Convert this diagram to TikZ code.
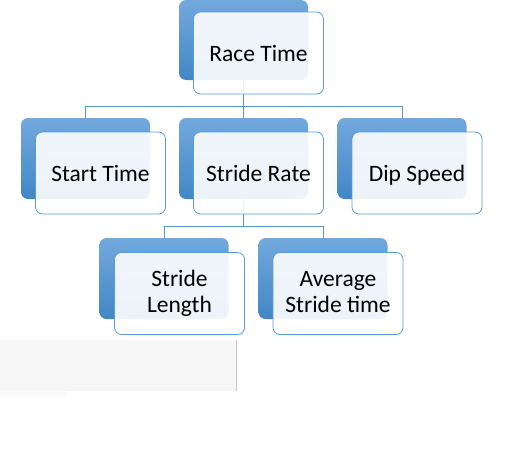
\documentclass[tikz,border=0pt]{standalone}
\usepackage{fontspec}
\setmainfont{Carlito}
\definecolor{edgeblue}{HTML}{5B9BD5}
\definecolor{topblue}{HTML}{72A9DD}
\definecolor{botblue}{HTML}{4286C6}
\definecolor{linkblue}{HTML}{5B93C9}
\definecolor{paneGray}{HTML}{F6F6F6}
\definecolor{paneEdge}{HTML}{C4C4C4}
\begin{document}
\begin{tikzpicture}[x=1pt,y=-1pt,
  backbox/.style={rectangle, rounded corners=7pt, minimum width=129pt, minimum height=81pt, inner sep=0pt,
    top color=topblue, bottom color=botblue, draw=none},
  frontbox/.style={rectangle, rounded corners=7pt, minimum width=130pt, minimum height=82pt, inner sep=0pt,
    draw=edgeblue, line width=0.8pt, fill=white, fill opacity=0.9, text opacity=1,
    font=\fontsize{23.5}{26}\selectfont, align=center, text=black, text depth=0pt},
  twoline/.style={font=\fontsize{23.5}{26}\selectfont, align=center, text depth=0pt, inner sep=0pt, text=black},
  link/.style={draw=linkblue, line width=0.8pt}]
\useasboundingbox (0,0) rectangle (508,466);
% grey pane
\fill[paneGray] (0,340) rectangle (236,391);
\fill[paneGray!60] (0,391) rectangle (66,397);
\draw[paneEdge, line width=0.8pt] (236,340) -- (236,391);
% back boxes
\node[backbox, minimum height=80pt] (raceB) at (243.5,40) {};
\node[backbox] (startB) at (85.5,158.5) {};
\node[backbox] (strideB) at (243.5,158.5) {};
\node[backbox] (dipB) at (402,158.5) {};
\node[backbox] (lenB) at (164,278.5) {};
\node[backbox] (avgB) at (323,278.5) {};
% bus coordinates
\coordinate (busA) at (0,106);
\coordinate (busB) at (0,226);
% connectors
\draw[link] (raceB.south) -- (raceB.south |- busA) -| (startB.north);
\draw[link] (raceB.south) -- (strideB.north);
\draw[link] (raceB.south |- busA) -| (dipB.north);
\draw[link] (strideB.south) -- (strideB.south |- busB) -| (lenB.north);
\draw[link] (strideB.south |- busB) -| (avgB.north);
% front boxes
\node[frontbox] (raceF) at (258.5,53) {Race Time};
\node[frontbox] (startF) at (100.5,173) {Start Time};
\node[frontbox] (strideF) at (258.5,173) {Stride Rate};
\node[frontbox] (dipF) at (417,173) {Dip Speed};
\node[frontbox] (lenF) at (179.5,293.5) {};
\node[frontbox] (avgF) at (338,293.5) {};
\node[twoline] (lenT) at ([yshift=2pt]lenF.center) {Stride\\Length};
\node[twoline] (avgT) at ([yshift=2pt]avgF.center) {Average\\Stride time};
\end{tikzpicture}
\end{document}
